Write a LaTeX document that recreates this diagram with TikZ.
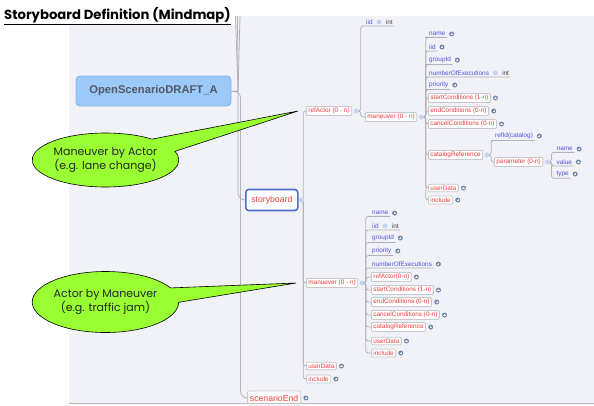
\documentclass[tikz,border=0pt]{standalone}
\usepackage{fontspec}
\newfontfamily\mapfont{Liberation Sans}
\newfontfamily\notefont{Poppins}
\usetikzlibrary{positioning,calc,shapes.callouts,backgrounds}
\definecolor{panelbg}{RGB}{241,242,248}
\definecolor{rootfill}{RGB}{155,202,250}
\definecolor{rootline}{RGB}{128,180,232}
\definecolor{roottext}{RGB}{85,88,100}
\definecolor{storyline}{RGB}{72,112,200}
\definecolor{boxred}{RGB}{240,60,60}
\definecolor{boxgray}{RGB}{200,200,204}
\definecolor{leafblue}{RGB}{80,80,225}
\definecolor{linegray}{RGB}{178,178,184}
\definecolor{hubblue}{RGB}{196,212,242}
\definecolor{plusgray}{RGB}{118,136,168}
\definecolor{bubblegreen}{RGB}{153,255,51}

\tikzset{
  mapsmall/.style={font=\mapfont\fontsize{6.4}{7.5}\selectfont},
  storyfont/.style={font=\mapfont\fontsize{8.7}{10}\selectfont},
  leaf/.style={mapsmall, text=leafblue, inner xsep=1.5pt, inner ysep=1.4pt, anchor=west},
  redbox/.style={mapsmall, text=boxred, draw=boxgray, fill=white, line width=0.8pt,
    rounded corners=1.2pt, inner xsep=2pt, inner ysep=1.6pt, anchor=west},
  typelabel/.style={mapsmall, text=black!75, inner xsep=1pt, inner ysep=1.4pt},
  hub/.style={circle, fill=hubblue, inner sep=0pt, minimum size=5pt},
  plusicon/.style={circle, fill=plusgray, inner sep=0pt, minimum size=5pt,
    path picture={\draw[white!85!plusgray, line width=0.35pt]
      ([xshift=-1.1pt]path picture bounding box.center) -- ([xshift=1.1pt]path picture bounding box.center)
      ([yshift=-1.1pt]path picture bounding box.center) -- ([yshift=1.1pt]path picture bounding box.center);}},
  branch/.style={draw=linegray, line width=0.8pt, rounded corners=2.5pt},
  rootbox/.style={draw=rootline, fill=rootfill, rounded corners=4pt, line width=0.8pt,
    minimum width=155pt, minimum height=30pt, text=roottext,
    font=\mapfont\bfseries\fontsize{11.2}{13}\selectfont},
  storybox/.style={storyfont, draw=storyline, line width=1.6pt, fill=white, rounded corners=3pt,
    minimum width=52pt, minimum height=21pt, text=boxred, anchor=west},
  bubble/.style={ellipse callout, draw=black, line width=0.6pt, fill=bubblegreen, text=black!85,
    align=center, font=\notefont\fontsize{11}{13}\selectfont, minimum width=143pt,
    inner sep=0pt},
}

\begin{document}
\begin{tikzpicture}[x=1pt, y=-1pt]
  \useasboundingbox (0,0) rectangle (594,405);
  % --- canvas: pale panel with a white notch behind the title ---
  \begin{scope}[on background layer]
    \fill[panelbg] (69,25) -- (235,25) -- (235,16) -- (594,16) -- (594,403) -- (69,403) -- cycle;
  \end{scope}
  \node[anchor=base west, inner sep=0pt, font=\notefont\bfseries\fontsize{13.2}{15}\selectfont]
    (title) at (4,19.5) {\underline{Storyboard Definition (Mindmap)}};

  % --- green callouts ---
  \coordinate (note1tip) at (298,111);
  \coordinate (note2tip) at (296,283);
  \node[bubble, minimum height=54pt, callout pointer arc=32, callout absolute pointer={(note1tip)}]
    (note1) at (105.5,160) {Maneuver by Actor\\(e.g. lane change)};
  \node[bubble, minimum height=61pt, callout pointer arc=28, callout absolute pointer={(note2tip)}]
    (note2) at (105.5,302) {Actor by Maneuver\\(e.g. traffic jam)};

  % --- root and trunk ---
  \node[rootbox] (root) at (153.5,91) {OpenScenarioDRAFT\_A};
  \coordinate (trunk) at (238,91);
  \coordinate (up1) at (235.5,16);
  \coordinate (up2) at (237.5,16);
  \coordinate (up3) at (240,16);
  \node[storybox] (story) at (245,200) {storyboard};
  \node[redbox, storyfont, minimum height=14pt, inner xsep=2.5pt] (send) at (247,398) {scenarioEnd};
  \node[plusicon, right=2pt of send] (send-p) {};
  \begin{scope}[on background layer]
    \draw[branch] (root.east) -- (trunk);
    \foreach \u in {up1,up2,up3} \draw[branch] (trunk) -- (\u);
    \draw[branch, rounded corners=7pt] (trunk) |- (story.west);
    \draw[branch, rounded corners=7pt] (trunk) -- ++(2.5,0) |- (send.west);
  \end{scope}

  % --- storyboard ---
  \node[hub, right=0pt of story] (storyhub) {};
  \node[redbox] (sra) at (306,111) {refActor (0 - n)};
  \node[redbox] (smn) at (306,283) {manuever (0 - n)};
  \node[redbox] (sud) at (306,366) {userData};
  \node[redbox] (sinc) at (306,379) {include};
  \node[plusicon, right=2pt of sud] (sud-p) {};
  \node[plusicon, right=2pt of sinc] (sinc-p) {};
  \begin{scope}[on background layer]
    \foreach \c in {sra,smn,sud,sinc}
      \draw[branch] (storyhub.center) -- ++(2,0) |- (\c.west);
  \end{scope}

  % --- refActor (0 - n) ---
  \node[hub, right=1.5pt of sra] (srahub) {};
  \node[leaf] (riid) at (364.5,22) {iid};
  \node[hub, right=2pt of riid] (riidhub) {};
  \node[typelabel, right=3pt of riidhub] (riidint) {int};
  \node[redbox] (tman) at (365,117) {maneuver (0 - n)};
  \begin{scope}[on background layer]
    \draw[branch] (srahub.center) -- ++(4.5,0) |- (riid.south west) -- (riid.south west -| riidint.east);
    \draw[branch] (srahub.center) -- ++(4.5,0) |- (tman.west);
  \end{scope}

  % --- maneuver (0 - n), upper ---
  \node[hub, right=1.5pt of tman] (tmanhub) {};
  \foreach \n/\lbl/\yy in {tname/name/34, tiid/iid/47, tgid/groupId/60, tprio/priority/85} {
    \node[leaf] (\n) at (427.5,\yy) {\lbl};
    \node[plusicon, right=2pt of \n] (\n-p) {};
  }
  \node[leaf] (tnum) at (427.5,73) {numberOfExecutions};
  \node[hub, right=2pt of tnum] (tnumhub) {};
  \node[typelabel, right=3pt of tnumhub] (tnumint) {int};
  \foreach \n/\lbl/\yy in {tstart/{startConditions (1-n)}/98, tend/{endConditions (0-n)}/111,
      tcncl/{cancelConditions (0-n)}/124, tcat/catalogReference/155, tud/userData/188, tinc/include/200} {
    \node[redbox] (\n) at (428,\yy) {\lbl};
  }
  \foreach \n in {tstart,tend,tcncl,tud,tinc}
    \node[plusicon, right=2pt of \n] (\n-p) {};
  \begin{scope}[on background layer]
    \foreach \n in {tname,tiid,tgid,tprio}
      \draw[branch] (tmanhub.center) -- ++(4.5,0) |- (\n.south west) -- (\n.south east);
    \draw[branch] (tmanhub.center) -- ++(4.5,0) |- (tnum.south west) -- (tnum.south west -| tnumint.east);
    \foreach \n in {tstart,tend,tcncl,tcat,tud,tinc}
      \draw[branch] (tmanhub.center) -- ++(4.5,0) |- (\n.west);
  \end{scope}

  % --- catalogReference and parameter (0-n) ---
  \node[hub, right=1.5pt of tcat] (tcathub) {};
  \node[leaf] (tref) at (493.5,136) {refId(catalog)};
  \node[plusicon, right=2pt of tref] (tref-p) {};
  \node[redbox] (tpar) at (494,162) {parameter (0-n)};
  \node[hub, right=1.5pt of tpar] (tparhub) {};
  \foreach \n/\lbl/\yy in {pname/name/149, pval/value/162, ptype/type/174} {
    \node[leaf] (\n) at (555,\yy) {\lbl};
    \node[plusicon, right=2pt of \n] (\n-p) {};
  }
  \begin{scope}[on background layer]
    \draw[branch] (tcathub.center) -- ++(4,0) |- (tref.south west) -- (tref.south east);
    \draw[branch] (tcathub.center) -- ++(4,0) |- (tpar.west);
    \foreach \n in {pname,pval,ptype}
      \draw[branch] (tparhub.center) -- ++(4,0) |- (\n.south west) -- (\n.south east);
  \end{scope}

  % --- manuever (0 - n), lower ---
  \node[hub, right=1.5pt of smn] (smnhub) {};
  \foreach \n/\lbl/\yy in {bname/name/213, bgid/groupId/238, bprio/priority/251, bnum/numberOfExecutions/264} {
    \node[leaf] (\n) at (370.5,\yy) {\lbl};
    \node[plusicon, right=2pt of \n] (\n-p) {};
  }
  \node[leaf] (biid) at (370.5,226) {iid};
  \node[hub, right=2pt of biid] (biidhub) {};
  \node[typelabel, right=3pt of biidhub] (biidint) {int};
  \foreach \n/\lbl/\yy in {bra/{refActor(0-n)}/277, bstart/{startConditions (1-n)}/290,
      bend/{endConditions (0-n)}/302, bcncl/{cancelConditions (0-n)}/315,
      bcat/catalogReference/327, bud/userData/341, binc/include/353} {
    \node[redbox] (\n) at (371,\yy) {\lbl};
    \node[plusicon, right=2pt of \n] (\n-p) {};
  }
  \begin{scope}[on background layer]
    \foreach \n in {bname,bgid,bprio,bnum}
      \draw[branch] (smnhub.center) -- ++(3.5,0) |- (\n.south west) -- (\n.south east);
    \draw[branch] (smnhub.center) -- ++(3.5,0) |- (biid.south west) -- (biid.south west -| biidint.east);
    \foreach \n in {bra,bstart,bend,bcncl,bcat,bud,binc}
      \draw[branch] (smnhub.center) -- ++(3.5,0) |- (\n.west);
  \end{scope}

  % --- lower edge of the panel ---
  \fill[white] (0,403) rectangle (594,405);
  \draw[gray!55, line width=1pt] (69,403) -- (594,403);
\end{tikzpicture}
\end{document}
